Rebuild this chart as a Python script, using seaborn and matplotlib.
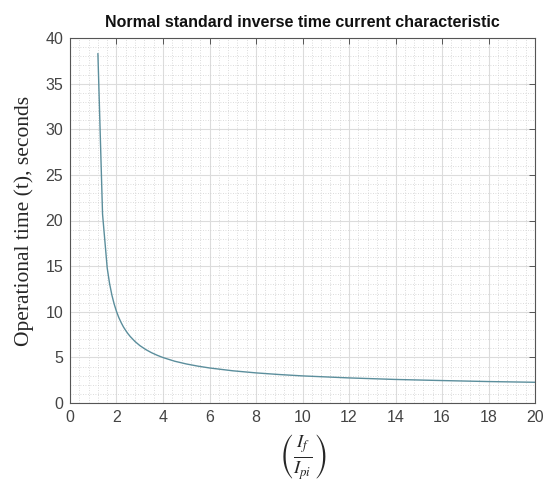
import matplotlib
matplotlib.use("Agg")
import matplotlib.pyplot as plt
import seaborn as sns
import pandas as pd
from matplotlib.ticker import MultipleLocator

# current multiple (If/Ipi) and operating time
current_ratio = [1.2, 1.4, 1.6, 1.7, 1.8, 1.9, 2.0, 2.1, 2.2, 2.3, 2.4, 2.5, 2.6,
                 2.8, 3.0, 3.25, 3.5, 3.75, 4, 4.5, 5, 5.5, 6,
                 7, 8, 9, 10, 12, 14, 16, 18, 20]
op_time = [38.3, 20.7, 14.8, 13.12, 11.84, 10.84, 10.03, 9.36, 8.81, 8.33, 7.93,
           7.57, 7.26, 6.73, 6.30, 5.87, 5.52, 5.23, 4.98, 4.58, 4.28, 4.04, 3.84,
           3.53, 3.30, 3.12, 2.97, 2.75, 2.58, 2.46, 2.35, 2.27]

df = pd.DataFrame({"ratio": current_ratio, "time": op_time})

sns.set_style("white")
plt.rcParams["font.family"] = ["Liberation Sans", "DejaVu Sans"]
plt.rcParams["mathtext.fontset"] = "stix"

fig = plt.figure(figsize=(5.5, 4.91), dpi=100)
ax = fig.add_axes([70 / 550, 1 - 403 / 491, 465 / 550, 365 / 491])

sns.lineplot(data=df, x="ratio", y="time", ax=ax, color="#5b8e9c", linewidth=1.0)

ax.set_xlim(0, 20)
ax.set_ylim(0, 40)
ax.xaxis.set_major_locator(MultipleLocator(2))
ax.xaxis.set_minor_locator(MultipleLocator(0.4))
ax.yaxis.set_major_locator(MultipleLocator(5))
ax.yaxis.set_minor_locator(MultipleLocator(1))

ax.grid(which="major", color="#dcdcdc", linewidth=0.8, linestyle="-")
ax.grid(which="minor", color="#d0d0d0", linewidth=0.6, linestyle=(0, (1, 2)))
ax.set_axisbelow(True)

ax.tick_params(which="major", direction="in", length=4, width=0.7, colors="#555555",
               labelcolor="#444444", labelsize=11.5, top=True, right=True, pad=5)
ax.tick_params(which="minor", length=0, top=True, right=True)
for s in ax.spines.values():
    s.set_color("#555555")
    s.set_linewidth(0.8)

ax.set_title("Normal standard inverse time current characteristic",
             fontsize=11.5, fontweight="bold", color="#111111", pad=8)
ax.set_ylabel("Operational time (t), seconds", fontsize=15.5,
              family=["Liberation Serif", "DejaVu Serif"], labelpad=8)
ax.set_xlabel(r"$\left(\frac{I_f}{I_{pi}}\right)$", fontsize=19, labelpad=6)

fig.savefig("out.png", dpi=100)
